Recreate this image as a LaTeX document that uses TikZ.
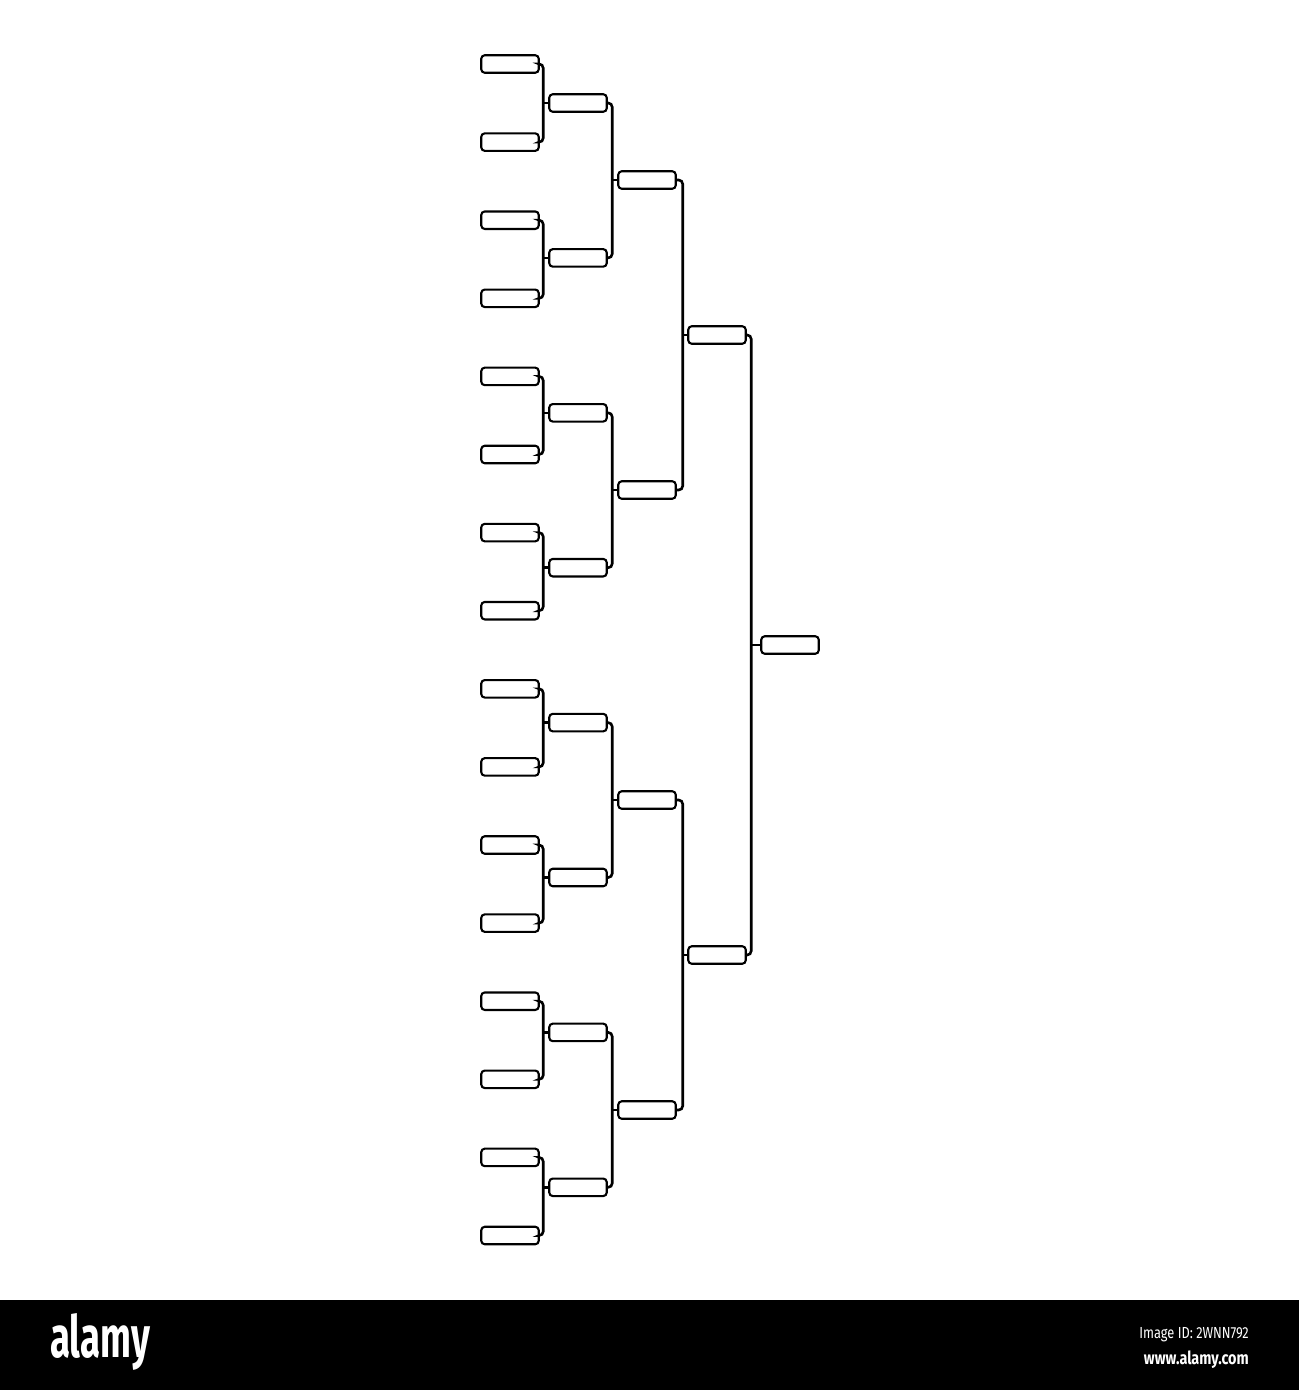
\documentclass[tikz,border=0pt]{standalone}
\usepackage{fontspec}
\setmainfont{Fira Sans}
\begin{document}
\begin{tikzpicture}[x=1pt,y=-1pt,
  box/.style={draw,rounded corners=3.5pt,line width=2.1pt,minimum width=57.5pt,minimum height=17.5pt,inner sep=0pt},
  link/.style={line width=2.6pt,rounded corners=4pt},
  wm/.style={text=white,inner sep=0pt}]
\useasboundingbox (0,0) rectangle (1299,1390);
\fill[black] (0,1300) rectangle (1299,1390);
% boxes
\foreach \i in {0,...,15} \node[box] (a\i) at (510,{64+78.1*\i}) {};
\foreach \i in {0,...,7} \node[box] (b\i) at (578,{103+154.9*\i}) {};
\foreach \i in {0,...,3} \node[box] (c\i) at (647,{180+310*\i}) {};
\node[box] (d0) at (717,335) {};
\node[box] (d1) at (717,955) {};
\node[box] (e0) at (790,645) {};
% round 1 -> 2
\foreach \i in {0,...,7} {
  \pgfmathtruncatemacro\p{2*\i}
  \pgfmathtruncatemacro\q{2*\i+1}
  \coordinate (m1-\i) at ([xshift=-5pt]b\i.west);
  \draw[link] (a\p.east) -| (m1-\i) |- (a\q.east);
  \draw[link] (m1-\i) -- (b\i.west);
}
% round 2 -> 3
\foreach \i in {0,...,3} {
  \pgfmathtruncatemacro\p{2*\i}
  \pgfmathtruncatemacro\q{2*\i+1}
  \coordinate (m2-\i) at ([xshift=-5pt]c\i.west);
  \draw[link] (b\p.east) -| (m2-\i) |- (b\q.east);
  \draw[link] (m2-\i) -- (c\i.west);
}
% round 3 -> 4
\foreach \i in {0,1} {
  \pgfmathtruncatemacro\p{2*\i}
  \pgfmathtruncatemacro\q{2*\i+1}
  \coordinate (m3-\i) at ([xshift=-4.5pt]d\i.west);
  \draw[link] (c\p.east) -| (m3-\i) |- (c\q.east);
  \draw[link] (m3-\i) -- (d\i.west);
}
% final
\coordinate (m4) at ([xshift=-9pt]e0.west);
\draw[link] (d0.east) -| (m4) |- (d1.east);
\draw[link] (m4) -- (e0.west);
% watermark
\node[wm,anchor=base west,font=\fontsize{58}{58}\selectfont\bfseries] (logo) at (50,1357) {\scalebox{0.63}[1]{alamy}};
\node[wm,anchor=base east,font=\fontsize{16}{16}\selectfont] (imgid) at (1249,1338) {\scalebox{0.8}[1]{Image ID: 2WNN792}};
\node[wm,anchor=base east,font=\fontsize{18}{18}\selectfont\bfseries] (url) at (1249,1364) {\scalebox{0.8}[1]{www.alamy.com}};
\end{tikzpicture}
\end{document}
